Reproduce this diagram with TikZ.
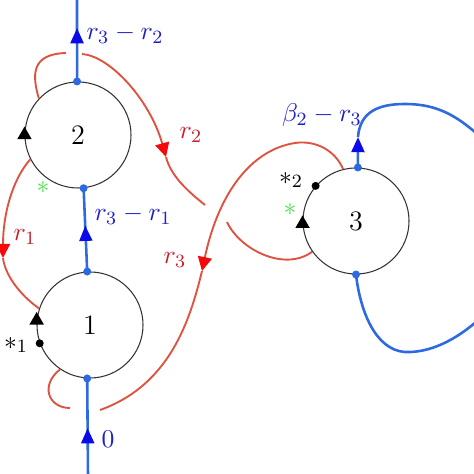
\documentclass[tikz,border=0pt]{standalone}
\usetikzlibrary{arrows.meta,shapes.geometric,decorations.markings}
\definecolor{lineblue}{RGB}{45,105,225}
\definecolor{tipblue}{RGB}{10,10,235}
\definecolor{textblue}{RGB}{30,30,200}
\definecolor{linered}{RGB}{222,82,62}
\definecolor{tipred}{RGB}{245,10,10}
\definecolor{textred}{RGB}{200,30,40}
\definecolor{stargreen}{RGB}{70,225,70}
\begin{document}
\begin{tikzpicture}[x=0.015cm, y=-0.015cm, font=\fontsize{11pt}{13pt}\selectfont,
    disc/.style={draw=black!80, circle, line width=0.45pt, minimum size=1.59cm, inner sep=0pt, font=\large},
    bluedot/.style={circle, fill=lineblue, inner sep=0pt, minimum size=0.12cm},
    blackdot/.style={circle, fill=black, inner sep=0pt, minimum size=0.12cm},
    blackarrow/.style={regular polygon, regular polygon sides=3, fill=black, inner sep=0pt, minimum size=0.25cm},
    blueline/.style={draw=lineblue, line width=1.1pt},
    redline/.style={draw=linered, line width=0.8pt},
    bluemid/.style={postaction={decorate}, decoration={markings, mark=at position #1 with {\arrow{Triangle[width=5.5pt, length=6.5pt, color=tipblue]}}}},
    bluetip/.style={-{Triangle[width=5.5pt, length=6.5pt, color=tipblue]}},
    redtip/.style={-{Triangle[width=6pt, length=6pt, color=tipred]}}]
  \useasboundingbox (0,0) rectangle (474,474);

  % Circles
  \node[disc] (c1) at (90,325) {1};
  \node[disc] (c2) at (78,135) {2};
  \node[disc] (c3) at (356,221) {3};

  % Free ends and breaks
  \coordinate (bot) at (88,476);
  \coordinate (top) at (77,-2);
  \coordinate (rt) at (476,133);
  \coordinate (rb) at (476,322);
  \coordinate (t3) at (358,137);
  \coordinate (g2a) at (66,53);
  \coordinate (g2b) at (82,54);
  \coordinate (t2r) at (166,157);
  \coordinate (e2a) at (205,205);
  \coordinate (e2b) at (227,222);
  \coordinate (t3r) at (202,271);
  \coordinate (g3a) at (100,410);
  \coordinate (g3b) at (70,408);
  \coordinate (t1r) at (3,258);

  % Red strands
  \draw[redline] (c2.137) .. controls (32,75) and (31,54) .. (g2a);
  \draw[redline, redtip] (g2b) .. controls (110,56) and (150,100) .. (t2r);
  \draw[redline] (t2r) .. controls (171,177) and (190,193) .. (e2a);
  \draw[redline] (e2b) .. controls (240,250) and (285,272) .. (c3.215);
  \draw[redline, redtip] (c3.104) .. controls (335,150) and (315,140) .. (295,143) .. controls (250,150) and (218,195) .. (t3r);
  \draw[redline] (t3r) .. controls (190,320) and (170,385) .. (g3a);
  \draw[redline] (g3b) .. controls (48,408) and (40,385) .. (c1.236);
  \draw[redline, redtip] (c2.207) .. controls (12,180) and (3,215) .. (t1r);
  \draw[redline] (t1r) .. controls (5,275) and (20,295) .. (c1.162);

  % Blue strands
  \draw[blueline, bluemid=0.49] (bot) -- (c1.267);
  \draw[blueline, bluemid=0.55] (c1.93) -- (c2.276);
  \draw[blueline, bluemid=0.64] (c2.91) -- (top);
  \draw[blueline, bluetip] (c3.88) -- (t3);
  \draw[blueline] (t3) .. controls (360,112) and (378,104) .. (405,104) .. controls (432,104) and (452,112) .. (rt);
  \draw[blueline] (c3.270) .. controls (360,310) and (375,350) .. (405,352) .. controls (430,353) and (455,340) .. (rb);

  % Dots on the circles
  \node[bluedot] (d1b) at (c1.267) {};
  \node[bluedot] (d1t) at (c1.93) {};
  \node[bluedot] (d2b) at (c2.276) {};
  \node[bluedot] (d2t) at (c2.91) {};
  \node[bluedot] (d3t) at (c3.88) {};
  \node[bluedot] (d3b) at (c3.270) {};
  \node[blackdot] (p1) at (c1.200) {};
  \node[blackdot] (p2) at (c3.139) {};

  % Orientation arrows
  \node[blackarrow] (a1) at (c1.175) {};
  \node[blackarrow] (a2) at (c2.180) {};
  \node[blackarrow] (a3) at (c3.183) {};

  % Labels
  \node[text=textblue] (l0) at (108,439) {$0$};
  \node[text=textblue] (l31) at (133,215) {$r_3-r_1$};
  \node[text=textblue] (l32) at (125,34) {$r_3-r_2$};
  \node[text=textblue] (lb) at (322,115) {$\beta_2-r_3$};
  \node[text=textred] (lr1) at (25,237) {$r_1$};
  \node[text=textred] (lr2) at (191,135) {$r_2$};
  \node[text=textred] (lr3) at (175,260) {$r_3$};
  \node (s1) at (16,345) {$*_1$};
  \node (s2) at (291,180) {$*_2$};
  \node[text=stargreen] (g1) at (43,188) {$*$};
  \node[text=stargreen] (g2) at (290,210) {$*$};
\end{tikzpicture}
\end{document}
